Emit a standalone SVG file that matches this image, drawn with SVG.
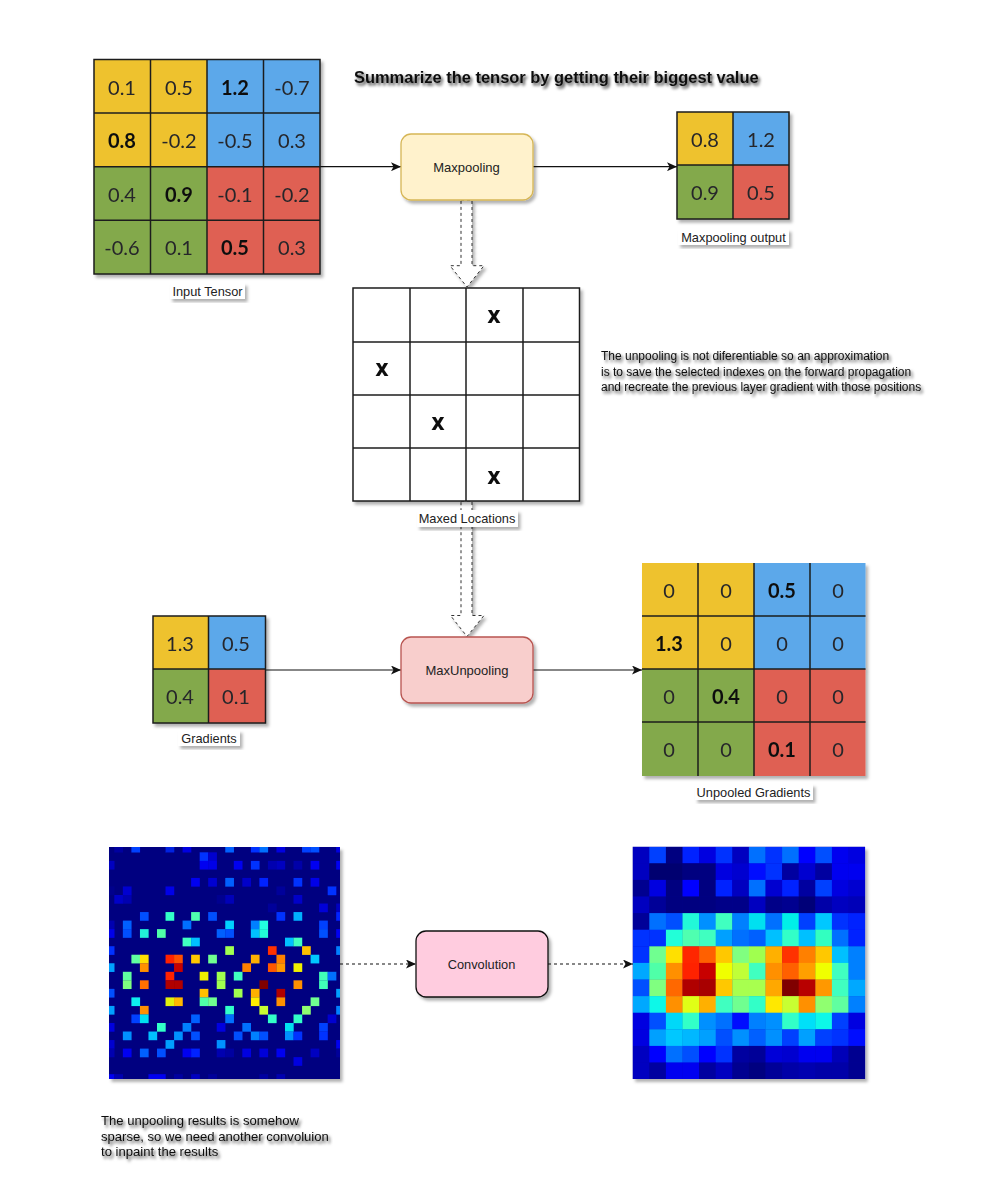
<svg xmlns="http://www.w3.org/2000/svg" width="1002" height="1202" viewBox="0 0 1002 1202">
<style>
text{font-family:"Liberation Sans",Arial,sans-serif;fill:#222}
.num text,text.num{font-family:Lato,"Liberation Sans",sans-serif;font-size:20px;text-anchor:middle;dominant-baseline:central;fill:#26262a}
.b{font-weight:700;fill:#111 !important}
.num text.x{font-family:"Open Sans","Liberation Sans",sans-serif;font-weight:800;font-size:18px;fill:#111}
.y{fill:#eec22e}.u{fill:#5ca8ea}.g{fill:#83a94c}.r{fill:#df6053}
.grid line,.grid rect.o{stroke:#1c1c1c;stroke-width:1.5;fill:none}
.lbl{font-size:12.8px;text-anchor:middle;dominant-baseline:central}
.note{font-size:12px;filter:url(#ts);fill:#111}
.note2{font-size:13.1px;filter:url(#ts);fill:#111}
.box{stroke-width:1.3}
.hm rect{width:1.02px;height:1.02px}
.line{fill:none;stroke:#111;stroke-width:1.2}
.dash{stroke-dasharray:3 3}
.blk{fill:#fff;stroke:#333;stroke-width:1;stroke-dasharray:3 3;filter:url(#sh)}
</style>
<defs>
<filter id="sh" x="-20%" y="-20%" width="140%" height="140%"><feDropShadow dx="2.5" dy="3" stdDeviation="1.6" flood-color="#000" flood-opacity=".3"/></filter>
<filter id="ts" x="-5%" y="-40%" width="110%" height="200%"><feDropShadow dx="2" dy="2.5" stdDeviation="1.4" flood-color="#000" flood-opacity=".75"/></filter>
<filter id="bl"><feGaussianBlur stdDeviation=".5"/></filter>
<marker id="ah" markerUnits="userSpaceOnUse" markerWidth="11" markerHeight="9" refX="10" refY="4.5" orient="auto"><path d="M0 0L10 4.5L0 9L2.5 4.5z" fill="#111"/></marker>
<clipPath id="c1"><rect x="109" y="847" width="231" height="232"/></clipPath>
<clipPath id="c2"><rect x="632.7" y="846.7" width="232.4" height="232.4"/></clipPath>
</defs>

<g id="connectors">
<path class="line" marker-end="url(#ah)" d="M320 166.7H401"/>
<path class="line" marker-end="url(#ah)" d="M533 166.7H677"/>
<path class="line" marker-end="url(#ah)" d="M266 670H401"/>
<path class="line" marker-end="url(#ah)" d="M533 670H642"/>
<path class="line dash" marker-end="url(#ah)" d="M340 964H416"/>
<path class="line dash" marker-end="url(#ah)" d="M548 964H633"/>
<path class="blk" d="M461 200H472V265.7H484L467 287L450 265.7H461Z"/>
<path class="blk" d="M461 501H472V615.5H484L467 636.5L450.5 615.5H461Z"/>
</g>

<g id="input-tensor" filter="url(#sh)">
<rect class="y" x="94" y="59.5" width="56.5" height="53.5"/><rect class="y" x="150.5" y="59.5" width="56.5" height="53.5"/><rect class="u" x="207" y="59.5" width="56.5" height="53.5"/><rect class="u" x="263.5" y="59.5" width="56.5" height="53.5"/>
<rect class="y" x="94" y="113" width="56.5" height="53.7"/><rect class="y" x="150.5" y="113" width="56.5" height="53.7"/><rect class="u" x="207" y="113" width="56.5" height="53.7"/><rect class="u" x="263.5" y="113" width="56.5" height="53.7"/>
<rect class="g" x="94" y="166.7" width="56.5" height="53.5"/><rect class="g" x="150.5" y="166.7" width="56.5" height="53.5"/><rect class="r" x="207" y="166.7" width="56.5" height="53.5"/><rect class="r" x="263.5" y="166.7" width="56.5" height="53.5"/>
<rect class="g" x="94" y="220.2" width="56.5" height="53.8"/><rect class="g" x="150.5" y="220.2" width="56.5" height="53.8"/><rect class="r" x="207" y="220.2" width="56.5" height="53.8"/><rect class="r" x="263.5" y="220.2" width="56.5" height="53.8"/>
<g class="grid"><rect class="o" x="94" y="59.5" width="226" height="214.5"/><line x1="150.5" y1="59.5" x2="150.5" y2="274"/><line x1="207" y1="59.5" x2="207" y2="274"/><line x1="263.5" y1="59.5" x2="263.5" y2="274"/><line x1="94" y1="113" x2="320" y2="113"/><line x1="94" y1="166.7" x2="320" y2="166.7"/><line x1="94" y1="220.2" x2="320" y2="220.2"/></g>
<g class="num">
<text x="122" y="86.5">0.1</text><text x="179" y="86.5">0.5</text><text class="b" x="235" y="86.5">1.2</text><text x="292" y="86.5">-0.7</text>
<text class="b" x="122" y="140">0.8</text><text x="179" y="140">-0.2</text><text x="235" y="140">-0.5</text><text x="292" y="140">0.3</text>
<text x="122" y="193.5">0.4</text><text class="b" x="179" y="193.5">0.9</text><text x="235" y="193.5">-0.1</text><text x="292" y="193.5">-0.2</text>
<text x="122" y="247">-0.6</text><text x="179" y="247">0.1</text><text class="b" x="235" y="247">0.5</text><text x="292" y="247">0.3</text>
</g>
</g>
<g id="input-tensor-label"><rect x="170" y="283" width="75" height="16" fill="#fff" filter="url(#sh)"/><text class="lbl" x="207.5" y="291">Input Tensor</text></g>

<g id="title"><text x="354" y="83" style="font-size:16.45px;font-weight:700;filter:url(#ts);fill:#111">Summarize the tensor by getting their biggest value</text></g>

<g id="maxpooling"><rect class="box" x="401" y="134" width="132" height="66" rx="10" fill="#fff2cc" stroke="#d6b656" filter="url(#sh)"/><text class="lbl" x="466.5" y="167" style="font-size:13px">Maxpooling</text></g>

<g id="maxpooling-output" filter="url(#sh)">
<rect class="y" x="677" y="112" width="56" height="53"/><rect class="u" x="733" y="112" width="56" height="53"/><rect class="g" x="677" y="165" width="56" height="54"/><rect class="r" x="733" y="165" width="56" height="54"/>
<g class="grid"><rect class="o" x="677" y="112" width="112" height="107"/><line x1="733" y1="112" x2="733" y2="219"/><line x1="677" y1="165" x2="789" y2="165"/></g>
<g class="num"><text x="705" y="138.5">0.8</text><text x="761" y="138.5">1.2</text><text x="705" y="191.5">0.9</text><text x="761" y="191.5">0.5</text></g>
</g>
<g id="maxpooling-output-label"><rect x="678" y="229" width="111" height="16" fill="#fff" filter="url(#sh)"/><text class="lbl" x="733.5" y="237">Maxpooling output</text></g>

<g id="maxed-locations" filter="url(#sh)">
<rect x="353" y="288" width="226.5" height="213" fill="#fff"/>
<g class="grid"><rect class="o" x="353" y="288" width="226.5" height="213"/><line x1="410" y1="288" x2="410" y2="501"/><line x1="466" y1="288" x2="466" y2="501"/><line x1="523" y1="288" x2="523" y2="501"/><line x1="353" y1="342" x2="579.5" y2="342"/><line x1="353" y1="395" x2="579.5" y2="395"/><line x1="353" y1="448" x2="579.5" y2="448"/></g>
<g class="num"><text class="x" x="494" y="316">X</text><text class="x" x="382" y="369">X</text><text class="x" x="438" y="423">X</text><text class="x" x="494" y="477">X</text></g>
</g>
<g id="maxed-locations-label"><rect x="417" y="510" width="101" height="17" fill="#fff" filter="url(#sh)"/><text class="lbl" x="467" y="518">Maxed Locations</text></g>

<g id="unpooling-note"><text class="note" x="601" y="360">The unpooling is not diferentiable so an approximation</text><text class="note" x="601" y="375.5">is to save the selected indexes on the forward propagation</text><text class="note" x="601" y="391">and recreate the previous layer gradient with those positions</text></g>

<g id="gradients" filter="url(#sh)">
<rect class="y" x="153" y="616" width="55.5" height="53"/><rect class="u" x="208.5" y="616" width="57" height="53"/><rect class="g" x="153" y="669" width="55.5" height="54"/><rect class="r" x="208.5" y="669" width="57" height="54"/>
<g class="grid"><rect class="o" x="153" y="616" width="112.5" height="107"/><line x1="208.5" y1="616" x2="208.5" y2="723"/><line x1="153" y1="669" x2="265.5" y2="669"/></g>
<g class="num"><text x="180" y="642.5">1.3</text><text x="236" y="642.5">0.5</text><text x="180" y="695.5">0.4</text><text x="236" y="695.5">0.1</text></g>
</g>
<g id="gradients-label"><rect x="178" y="730" width="62" height="16" fill="#fff" filter="url(#sh)"/><text class="lbl" x="209" y="738">Gradients</text></g>

<g id="maxunpooling"><rect class="box" x="401" y="637" width="132" height="66" rx="10" fill="#f8cecc" stroke="#b85450" filter="url(#sh)"/><text class="lbl" x="467" y="670" style="font-size:13px">MaxUnpooling</text></g>

<g id="unpooled-gradients" filter="url(#sh)">
<rect class="y" x="642" y="563" width="56" height="53"/><rect class="y" x="698" y="563" width="56" height="53"/><rect class="u" x="754" y="563" width="56" height="53"/><rect class="u" x="810" y="563" width="55.5" height="53"/>
<rect class="y" x="642" y="616" width="56" height="53"/><rect class="y" x="698" y="616" width="56" height="53"/><rect class="u" x="754" y="616" width="56" height="53"/><rect class="u" x="810" y="616" width="55.5" height="53"/>
<rect class="g" x="642" y="669" width="56" height="53"/><rect class="g" x="698" y="669" width="56" height="53"/><rect class="r" x="754" y="669" width="56" height="53"/><rect class="r" x="810" y="669" width="55.5" height="53"/>
<rect class="g" x="642" y="722" width="56" height="54"/><rect class="g" x="698" y="722" width="56" height="54"/><rect class="r" x="754" y="722" width="56" height="54"/><rect class="r" x="810" y="722" width="55.5" height="54"/>
<g class="grid"><line x1="642" y1="616" x2="865.5" y2="616"/><line x1="642" y1="669" x2="865.5" y2="669"/><line x1="642" y1="722" x2="865.5" y2="722"/><line x1="698" y1="563" x2="698" y2="776"/><line x1="754" y1="563" x2="754" y2="776"/><line x1="810" y1="563" x2="810" y2="776"/></g>
<g class="num">
<text x="669" y="589.5">0</text><text x="726" y="589.5">0</text><text class="b" x="782" y="589.5">0.5</text><text x="838" y="589.5">0</text>
<text class="b" x="669" y="642.5">1.3</text><text x="726" y="642.5">0</text><text x="782" y="642.5">0</text><text x="838" y="642.5">0</text>
<text x="669" y="695.5">0</text><text class="b" x="726" y="695.5">0.4</text><text x="782" y="695.5">0</text><text x="838" y="695.5">0</text>
<text x="669" y="748.5">0</text><text x="726" y="748.5">0</text><text class="b" x="782" y="748.5">0.1</text><text x="838" y="748.5">0</text>
</g>
</g>
<g id="unpooled-gradients-label"><rect x="695" y="784" width="118" height="16" fill="#fff" filter="url(#sh)"/><text class="lbl" x="753.5" y="792">Unpooled Gradients</text></g>

<g id="sparse-heatmap" filter="url(#sh)"><g clip-path="url(#c1)"><g filter="url(#bl)">
<rect x="105" y="843" width="240" height="240" fill="#000080"/>
<g class="hm" transform="translate(114.33 852.33) scale(8.533)">
<rect x="0" y="-1" fill="#0000a0"/><rect x="2" y="-1" fill="#0040ff"/><rect x="6" y="-1" fill="#0020e0"/><rect x="8" y="-1" fill="#0000e0"/><rect x="13" y="-1" fill="#0060ff"/><rect x="16" y="-1" fill="#0030ff"/><rect x="17" y="-1" fill="#0070ff"/><rect x="19" y="-1" fill="#0000e0"/><rect x="22" y="-1" fill="#0040ff"/><rect x="23" y="-1" fill="#0050ff"/><rect x="26" y="-1" fill="#0000e0"/>
<rect x="10" y="0" fill="#0030ff"/><rect x="11" y="0" fill="#0000d0"/>
<rect x="-1" y="1" fill="#0000c0"/><rect x="10" y="1" fill="#0000f0"/><rect x="11" y="1" fill="#0000e8"/><rect x="14" y="1" fill="#0000f0"/><rect x="16" y="1" fill="#0030ff"/><rect x="18" y="1" fill="#0000b0"/><rect x="19" y="1" fill="#0000c0"/><rect x="21" y="1" fill="#0000a8"/><rect x="23" y="1" fill="#0000f0"/><rect x="26" y="1" fill="#0000f0"/>
<rect x="9" y="3" fill="#0000f0"/><rect x="11" y="3" fill="#0000d0"/><rect x="13" y="3" fill="#0060ff"/><rect x="15" y="3" fill="#0000c8"/><rect x="17" y="3" fill="#0020ff"/><rect x="21" y="3" fill="#0030ff"/><rect x="23" y="3" fill="#0000e8"/>
<rect x="-1" y="4" fill="#00008c"/><rect x="1" y="4" fill="#0000d0"/><rect x="6" y="4" fill="#0000e8"/><rect x="19" y="4" fill="#00009a"/><rect x="25" y="4" fill="#0030ff"/>
<rect x="0" y="5" fill="#0000c8"/><rect x="1" y="5" fill="#0000b0"/><rect x="12" y="5" fill="#000090"/><rect x="13" y="5" fill="#0000b8"/><rect x="21" y="5" fill="#0000c8"/>
<rect x="18" y="6" fill="#00009a"/><rect x="24" y="6" fill="#0000d8"/><rect x="26" y="6" fill="#0000c0"/>
<rect x="3" y="7" fill="#0050ff"/><rect x="6" y="7" fill="#30ffc8"/><rect x="9" y="7" fill="#50ffb0"/><rect x="11" y="7" fill="#0050ff"/><rect x="19" y="7" fill="#0030ff"/><rect x="21" y="7" fill="#00b0ff"/><rect x="26" y="7" fill="#0020ff"/>
<rect x="-1" y="8" fill="#0000b0"/><rect x="1" y="8" fill="#0060ff"/><rect x="8" y="8" fill="#0070ff"/><rect x="13" y="8" fill="#00d0ff"/><rect x="16" y="8" fill="#0080ff"/><rect x="17" y="8" fill="#20ffe0"/><rect x="24" y="8" fill="#0040ff"/>
<rect x="-1" y="9" fill="#0000e8"/><rect x="1" y="9" fill="#0050ff"/><rect x="3" y="9" fill="#20f0d8"/><rect x="5" y="9" fill="#50ffa8"/><rect x="12" y="9" fill="#0060ff"/><rect x="13" y="9" fill="#0050ff"/><rect x="16" y="9" fill="#00c0ff"/><rect x="17" y="9" fill="#20ffd8"/><rect x="24" y="9" fill="#0050ff"/><rect x="26" y="9" fill="#0000f0"/>
<rect x="8" y="10" fill="#40ffc0"/><rect x="9" y="10" fill="#00c0ff"/><rect x="20" y="10" fill="#00c0ff"/><rect x="21" y="10" fill="#40ffc0"/>
<rect x="-1" y="11" fill="#0030ff"/><rect x="13" y="11" fill="#a0ff50"/><rect x="18" y="11" fill="#ff3000"/><rect x="22" y="11" fill="#ffc000"/><rect x="26" y="11" fill="#0080ff"/>
<rect x="2" y="12" fill="#60ffa0"/><rect x="3" y="12" fill="#ffe000"/><rect x="6" y="12" fill="#ff2000"/><rect x="7" y="12" fill="#ff5000"/><rect x="9" y="12" fill="#ffc800"/><rect x="11" y="12" fill="#70ff90"/><rect x="16" y="12" fill="#ffb000"/><rect x="19" y="12" fill="#ff8000"/><rect x="23" y="12" fill="#00c8ff"/>
<rect x="-1" y="13" fill="#00a0ff"/><rect x="3" y="13" fill="#ff9000"/><rect x="7" y="13" fill="#c80000"/><rect x="15" y="13" fill="#ff8000"/><rect x="18" y="13" fill="#ff5800"/><rect x="19" y="13" fill="#ff9800"/><rect x="21" y="13" fill="#f0f000"/>
<rect x="1" y="14" fill="#60ffa0"/><rect x="6" y="14" fill="#ff2000"/><rect x="10" y="14" fill="#f0f000"/><rect x="12" y="14" fill="#a0ff50"/><rect x="14" y="14" fill="#40ffc0"/><rect x="24" y="14" fill="#40ffb8"/><rect x="25" y="14" fill="#0070ff"/>
<rect x="1" y="15" fill="#80ff80"/><rect x="3" y="15" fill="#ff7000"/><rect x="6" y="15" fill="#b00000"/><rect x="7" y="15" fill="#b00000"/><rect x="12" y="15" fill="#a0ff50"/><rect x="17" y="15" fill="#800000"/><rect x="21" y="15" fill="#ff9000"/><rect x="24" y="15" fill="#40ffb8"/>
<rect x="-1" y="16" fill="#0050ff"/><rect x="10" y="16" fill="#ffc000"/><rect x="14" y="16" fill="#a0ff50"/><rect x="16" y="16" fill="#ffb000"/><rect x="19" y="16" fill="#b00000"/><rect x="26" y="16" fill="#00a0ff"/>
<rect x="2" y="17" fill="#10f0f0"/><rect x="6" y="17" fill="#e0f010"/><rect x="7" y="17" fill="#ffb800"/><rect x="10" y="17" fill="#50ffa8"/><rect x="11" y="17" fill="#70ff90"/><rect x="16" y="17" fill="#ffee00"/><rect x="19" y="17" fill="#ff9000"/><rect x="23" y="17" fill="#70ff90"/>
<rect x="-1" y="18" fill="#00a0ff"/><rect x="3" y="18" fill="#ff9000"/><rect x="13" y="18" fill="#30ffc8"/><rect x="17" y="18" fill="#c8ff30"/><rect x="22" y="18" fill="#90ff70"/><rect x="26" y="18" fill="#0080ff"/>
<rect x="2" y="19" fill="#0040ff"/><rect x="3" y="19" fill="#00e0f0"/><rect x="9" y="19" fill="#0060ff"/><rect x="13" y="19" fill="#0070ff"/><rect x="18" y="19" fill="#30ffc8"/><rect x="21" y="19" fill="#30ffc8"/><rect x="25" y="19" fill="#0000d0"/>
<rect x="-1" y="20" fill="#0000e0"/><rect x="5" y="20" fill="#30ffc8"/><rect x="8" y="20" fill="#0080ff"/><rect x="12" y="20" fill="#0000e0"/><rect x="15" y="20" fill="#0070ff"/><rect x="20" y="20" fill="#00e0f0"/><rect x="24" y="20" fill="#0040ff"/>
<rect x="1" y="21" fill="#0090ff"/><rect x="4" y="21" fill="#00c0ff"/><rect x="7" y="21" fill="#0090ff"/><rect x="9" y="21" fill="#0050ff"/><rect x="14" y="21" fill="#0050ff"/><rect x="16" y="21" fill="#0080ff"/><rect x="17" y="21" fill="#0050ff"/><rect x="20" y="21" fill="#0090ff"/><rect x="21" y="21" fill="#0030ff"/><rect x="24" y="21" fill="#0030ff"/>
<rect x="-1" y="22" fill="#0000d0"/><rect x="6" y="22" fill="#00a0ff"/><rect x="12" y="22" fill="#0090ff"/><rect x="26" y="22" fill="#0000f0"/>
<rect x="-1" y="23" fill="#0000b0"/><rect x="1" y="23" fill="#0000f0"/><rect x="3" y="23" fill="#0060ff"/><rect x="5" y="23" fill="#0050ff"/><rect x="8" y="23" fill="#0000f0"/><rect x="9" y="23" fill="#0020ff"/><rect x="12" y="23" fill="#0000b0"/><rect x="13" y="23" fill="#0000a0"/><rect x="15" y="23" fill="#0000e0"/><rect x="17" y="23" fill="#0000d8"/><rect x="19" y="23" fill="#0000f0"/><rect x="23" y="23" fill="#0000c0"/><rect x="26" y="23" fill="#00009a"/>
<rect x="21" y="24" fill="#0000e0"/>
<rect x="-1" y="26" fill="#0000f0"/><rect x="0" y="26" fill="#0000b0"/><rect x="4" y="26" fill="#0000f0"/><rect x="5" y="26" fill="#0000f0"/><rect x="7" y="26" fill="#0000a0"/><rect x="9" y="26" fill="#0000c0"/><rect x="11" y="26" fill="#00009a"/><rect x="17" y="26" fill="#0000a0"/><rect x="19" y="26" fill="#0000b0"/>
</g>
</g></g></g>

<g id="convolution"><rect class="box" x="416" y="931" width="132" height="66" rx="10" fill="#ffccdf" stroke="#111" filter="url(#sh)"/><text class="lbl" x="481.5" y="964">Convolution</text></g>

<g id="dense-heatmap" filter="url(#sh)"><g clip-path="url(#c2)"><g filter="url(#bl)">
<rect x="628" y="842" width="242" height="242" fill="#0000a0"/>
<g class="hm" transform="translate(632.7 846.7) scale(16.6)">
<rect x="0" y="0" fill="#0000c0"/><rect x="1" y="0" fill="#0040ff"/><rect x="2" y="0" fill="#000080"/><rect x="3" y="0" fill="#0020ff"/><rect x="4" y="0" fill="#0000e0"/><rect x="5" y="0" fill="#0030ff"/><rect x="6" y="0" fill="#0000c0"/><rect x="7" y="0" fill="#0070ff"/><rect x="8" y="0" fill="#0030ff"/><rect x="9" y="0" fill="#0070ff"/><rect x="10" y="0" fill="#0000ff"/><rect x="11" y="0" fill="#0050ff"/><rect x="12" y="0" fill="#0000f0"/><rect x="13" y="0" fill="#0000e0"/>
<rect x="0" y="1" fill="#0000c0"/><rect x="1" y="1" fill="#000070"/><rect x="2" y="1" fill="#000070"/><rect x="3" y="1" fill="#000080"/><rect x="4" y="1" fill="#000080"/><rect x="5" y="1" fill="#0000e0"/><rect x="6" y="1" fill="#0000d0"/><rect x="7" y="1" fill="#0010ff"/><rect x="8" y="1" fill="#0030ff"/><rect x="9" y="1" fill="#0000a0"/><rect x="10" y="1" fill="#0000d0"/><rect x="11" y="1" fill="#0000a0"/><rect x="12" y="1" fill="#0000f0"/><rect x="13" y="1" fill="#0000f0"/>
<rect x="0" y="2" fill="#000090"/><rect x="1" y="2" fill="#0000e0"/><rect x="2" y="2" fill="#000080"/><rect x="3" y="2" fill="#0000ff"/><rect x="4" y="2" fill="#000080"/><rect x="5" y="2" fill="#0020ff"/><rect x="6" y="2" fill="#0000c0"/><rect x="7" y="2" fill="#0070ff"/><rect x="8" y="2" fill="#0000d0"/><rect x="9" y="2" fill="#0020ff"/><rect x="10" y="2" fill="#0000a0"/><rect x="11" y="2" fill="#0040ff"/><rect x="12" y="2" fill="#0000e0"/><rect x="13" y="2" fill="#0000d0"/>
<rect x="0" y="3" fill="#0000c0"/><rect x="1" y="3" fill="#000098"/><rect x="2" y="3" fill="#000080"/><rect x="3" y="3" fill="#000080"/><rect x="4" y="3" fill="#000080"/><rect x="5" y="3" fill="#000088"/><rect x="6" y="3" fill="#000088"/><rect x="7" y="3" fill="#0000c0"/><rect x="8" y="3" fill="#000088"/><rect x="9" y="3" fill="#000090"/><rect x="10" y="3" fill="#000078"/><rect x="11" y="3" fill="#0000a8"/><rect x="12" y="3" fill="#0000c0"/><rect x="13" y="3" fill="#0000b8"/>
<rect x="0" y="4" fill="#000098"/><rect x="1" y="4" fill="#0070ff"/><rect x="2" y="4" fill="#0050ff"/><rect x="3" y="4" fill="#20f8d8"/><rect x="4" y="4" fill="#0090ff"/><rect x="5" y="4" fill="#40ffc0"/><rect x="6" y="4" fill="#0080ff"/><rect x="7" y="4" fill="#00e0f0"/><rect x="8" y="4" fill="#0070ff"/><rect x="9" y="4" fill="#00f0e8"/><rect x="10" y="4" fill="#0040ff"/><rect x="11" y="4" fill="#00c8ff"/><rect x="12" y="4" fill="#0030ff"/><rect x="13" y="4" fill="#0020ff"/>
<rect x="0" y="5" fill="#0030ff"/><rect x="1" y="5" fill="#0030ff"/><rect x="2" y="5" fill="#20ffd8"/><rect x="3" y="5" fill="#50ffb0"/><rect x="4" y="5" fill="#40ffc0"/><rect x="5" y="5" fill="#00a0ff"/><rect x="6" y="5" fill="#0070ff"/><rect x="7" y="5" fill="#0060ff"/><rect x="8" y="5" fill="#00c0ff"/><rect x="9" y="5" fill="#30ffc8"/><rect x="10" y="5" fill="#00c0ff"/><rect x="11" y="5" fill="#30ffc0"/><rect x="12" y="5" fill="#0070ff"/><rect x="13" y="5" fill="#0020ff"/>
<rect x="0" y="6" fill="#0030ff"/><rect x="1" y="6" fill="#70ff90"/><rect x="2" y="6" fill="#ffe000"/><rect x="3" y="6" fill="#ff2800"/><rect x="4" y="6" fill="#ff6000"/><rect x="5" y="6" fill="#ffc800"/><rect x="6" y="6" fill="#80ff80"/><rect x="7" y="6" fill="#a0ff50"/><rect x="8" y="6" fill="#ffb000"/><rect x="9" y="6" fill="#ff3000"/><rect x="10" y="6" fill="#ff8000"/><rect x="11" y="6" fill="#ffc800"/><rect x="12" y="6" fill="#00c0ff"/><rect x="13" y="6" fill="#0080ff"/>
<rect x="0" y="7" fill="#00a8ff"/><rect x="1" y="7" fill="#50ffa8"/><rect x="2" y="7" fill="#ff9000"/><rect x="3" y="7" fill="#ff2000"/><rect x="4" y="7" fill="#c80000"/><rect x="5" y="7" fill="#f0ff00"/><rect x="6" y="7" fill="#c0ff38"/><rect x="7" y="7" fill="#40ffc0"/><rect x="8" y="7" fill="#ff9000"/><rect x="9" y="7" fill="#ff6000"/><rect x="10" y="7" fill="#ffa000"/><rect x="11" y="7" fill="#f0ff00"/><rect x="12" y="7" fill="#40ffc0"/><rect x="13" y="7" fill="#0080ff"/>
<rect x="0" y="8" fill="#0050ff"/><rect x="1" y="8" fill="#80ff80"/><rect x="2" y="8" fill="#ff6800"/><rect x="3" y="8" fill="#b00000"/><rect x="4" y="8" fill="#a80000"/><rect x="5" y="8" fill="#ffc800"/><rect x="6" y="8" fill="#a8ff50"/><rect x="7" y="8" fill="#a8ff50"/><rect x="8" y="8" fill="#ffa800"/><rect x="9" y="8" fill="#800000"/><rect x="10" y="8" fill="#b80000"/><rect x="11" y="8" fill="#ff9800"/><rect x="12" y="8" fill="#40ffc0"/><rect x="13" y="8" fill="#00a8ff"/>
<rect x="0" y="9" fill="#00a8ff"/><rect x="1" y="9" fill="#10f8e8"/><rect x="2" y="9" fill="#ff9000"/><rect x="3" y="9" fill="#e0ff18"/><rect x="4" y="9" fill="#ffb000"/><rect x="5" y="9" fill="#40ffc0"/><rect x="6" y="9" fill="#70ff90"/><rect x="7" y="9" fill="#30ffc8"/><rect x="8" y="9" fill="#ffe800"/><rect x="9" y="9" fill="#c8ff30"/><rect x="10" y="9" fill="#ff9000"/><rect x="11" y="9" fill="#90ff70"/><rect x="12" y="9" fill="#60ffa0"/><rect x="13" y="9" fill="#0080ff"/>
<rect x="0" y="10" fill="#0000e0"/><rect x="1" y="10" fill="#0050ff"/><rect x="2" y="10" fill="#00d8f8"/><rect x="3" y="10" fill="#30ffc8"/><rect x="4" y="10" fill="#0090ff"/><rect x="5" y="10" fill="#0070ff"/><rect x="6" y="10" fill="#0010ff"/><rect x="7" y="10" fill="#0080ff"/><rect x="8" y="10" fill="#0090ff"/><rect x="9" y="10" fill="#30ffc8"/><rect x="10" y="10" fill="#00e0f8"/><rect x="11" y="10" fill="#10f8e8"/><rect x="12" y="10" fill="#0040ff"/><rect x="13" y="10" fill="#0000e0"/>
<rect x="0" y="11" fill="#0000e0"/><rect x="1" y="11" fill="#00a0ff"/><rect x="2" y="11" fill="#00c8ff"/><rect x="3" y="11" fill="#00b8ff"/><rect x="4" y="11" fill="#00a0ff"/><rect x="5" y="11" fill="#0050ff"/><rect x="6" y="11" fill="#0090ff"/><rect x="7" y="11" fill="#0060ff"/><rect x="8" y="11" fill="#0090ff"/><rect x="9" y="11" fill="#0040ff"/><rect x="10" y="11" fill="#00a0ff"/><rect x="11" y="11" fill="#0040ff"/><rect x="12" y="11" fill="#0030ff"/><rect x="13" y="11" fill="#0010ff"/>
<rect x="0" y="12" fill="#0000c0"/><rect x="1" y="12" fill="#0000ff"/><rect x="2" y="12" fill="#0070ff"/><rect x="3" y="12" fill="#0050ff"/><rect x="4" y="12" fill="#0000ff"/><rect x="5" y="12" fill="#0030ff"/><rect x="6" y="12" fill="#0000a0"/><rect x="7" y="12" fill="#000098"/><rect x="8" y="12" fill="#0000d8"/><rect x="9" y="12" fill="#0000d0"/><rect x="10" y="12" fill="#0000f0"/><rect x="11" y="12" fill="#0000f0"/><rect x="12" y="12" fill="#0000b8"/><rect x="13" y="12" fill="#000090"/>
<rect x="0" y="13" fill="#0000c0"/><rect x="1" y="13" fill="#0000a0"/><rect x="2" y="13" fill="#0000f0"/><rect x="3" y="13" fill="#0000f0"/><rect x="4" y="13" fill="#0000a0"/><rect x="5" y="13" fill="#0000c0"/><rect x="6" y="13" fill="#000090"/><rect x="7" y="13" fill="#000080"/><rect x="8" y="13" fill="#000098"/><rect x="9" y="13" fill="#0000a8"/><rect x="10" y="13" fill="#0000b0"/><rect x="11" y="13" fill="#0000a8"/><rect x="12" y="13" fill="#0000a8"/><rect x="13" y="13" fill="#000090"/>
</g>
</g></g></g>

<g id="inpaint-note"><text class="note2" x="101" y="1125">The unpooling results is somehow</text><text class="note2" x="101" y="1140.5">sparse, so we need another convoluion</text><text class="note2" x="101" y="1156">to inpaint the results</text></g>
</svg>
